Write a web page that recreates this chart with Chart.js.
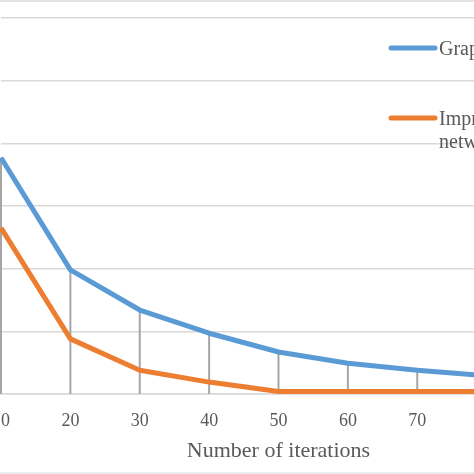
<!DOCTYPE html>
<html>
<head>
<meta charset="utf-8">
<script src="https://cdn.jsdelivr.net/npm/chart.js@4.4.1/dist/chart.umd.min.js"></script>
<style>
  html, body { margin: 0; padding: 0; background: #ffffff; overflow: hidden; }
  #frame { position: relative; width: 474px; height: 474px; overflow: hidden; background: #fff; }
  #frame:before { content: ""; position: absolute; left: 0; right: 0; top: 0; height: 2px; background: #e4e4e4; z-index: 2; }
  #frame:after { content: ""; position: absolute; left: 0; right: 0; bottom: 0; height: 2px; background: #ececec; z-index: 2; }
  #wrap { position: absolute; left: -40px; top: 0; width: 640px; height: 474px; }
</style>
</head>
<body>
<div id="frame"><div id="wrap"><canvas id="c" width="640" height="474"></canvas></div></div>
<script>
// ---- data ----
const iterations = [10, 20, 30, 40, 50, 60, 70, 80];
const graphNetwork = [3.77, 1.98, 1.34, 0.97, 0.67, 0.49, 0.38, 0.29];
const improvedNetwork = [2.65, 0.88, 0.38, 0.19, 0.04, 0.04, 0.04, 0.04];
const seriesLabels = ['Graph neural network', 'Improved graph neural network'];
const xTitle = 'Number of iterations';

const toPoints = arr => arr.map((v, i) => ({ x: iterations[i], y: v }));

const FONT = '"Liberation Serif", "DejaVu Serif", serif';
const TEXT = '#595959';

const dropLines = {
  id: 'dropLines',
  beforeDatasetsDraw(chart) {
    const { ctx, chartArea, scales } = chart;
    ctx.save();
    ctx.strokeStyle = '#a6a6a6';
    ctx.lineWidth = 2;
    iterations.forEach((it, i) => {
      let top = Infinity;
      chart.data.datasets.forEach(ds => {
        const p = ds.data[i];
        if (p && p.y != null) top = Math.min(top, scales.y.getPixelForValue(p.y));
      });
      const x = scales.x.getPixelForValue(it);
      ctx.beginPath();
      ctx.moveTo(x, top);
      ctx.lineTo(x, chartArea.bottom);
      ctx.stroke();
    });
    ctx.restore();
  }
};

const customLegend = {
  id: 'customLegend',
  afterDraw(chart) {
    const { ctx } = chart;
    const x0 = 430; // canvas coords (viewport 390)
    const entries = [
      { y: 48, lines: ['Graph neural network'] },
      { y: 118, lines: ['Improved graph neural', 'network'] }
    ];
    ctx.save();
    chart.data.datasets.forEach((ds, i) => {
      const e = entries[i];
      ctx.strokeStyle = ds.borderColor;
      ctx.lineWidth = 5;
      ctx.lineCap = 'round';
      ctx.beginPath();
      ctx.moveTo(x0 + 1, e.y);
      ctx.lineTo(x0 + 45, e.y);
      ctx.stroke();
      ctx.fillStyle = TEXT;
      ctx.font = '20px ' + FONT;
      ctx.textBaseline = 'alphabetic';
      e.lines.forEach((t, k) => ctx.fillText(t, x0 + 49, e.y + 7 + k * 23));
    });
    ctx.restore();
  }
};

new Chart(document.getElementById('c'), {
  type: 'line',
  data: {
    datasets: [
      { label: seriesLabels[0], data: toPoints(graphNetwork), borderColor: '#5b9bd5', backgroundColor: '#5b9bd5',
        borderWidth: 5, pointRadius: 0, tension: 0, clip: false, borderJoinStyle: 'round' },
      { label: seriesLabels[1], data: toPoints(improvedNetwork), borderColor: '#ed7d31', backgroundColor: '#ed7d31',
        borderWidth: 5, pointRadius: 0, tension: 0, clip: false, borderJoinStyle: 'round' }
    ]
  },
  options: {
    responsive: false,
    animation: false,
    layout: { padding: { left: 41, top: 18, right: 44, bottom: 0 } },
    plugins: { legend: { display: false }, tooltip: { enabled: false } },
    scales: {
      x: {
        type: 'linear', min: 10, max: 90,
        grid: { display: false, drawTicks: false },
        border: { display: true, color: '#d9d9d9', width: 1.5 },
        ticks: { stepSize: 10, color: TEXT, font: { family: FONT, size: 18 }, padding: 16, maxRotation: 0 },
        title: { display: true, text: xTitle, color: TEXT, font: { family: FONT, size: 22 }, padding: { top: 0, bottom: 10 } },
        afterFit(scale) { scale.height = 80; }
      },
      y: {
        min: 0, max: 6,
        grid: { color: '#d9d9d9', lineWidth: 1.5, drawTicks: false },
        border: { display: false },
        ticks: { display: false, stepSize: 1 }
      }
    }
  },
  plugins: [dropLines, customLegend]
});
</script>
</body>
</html>
